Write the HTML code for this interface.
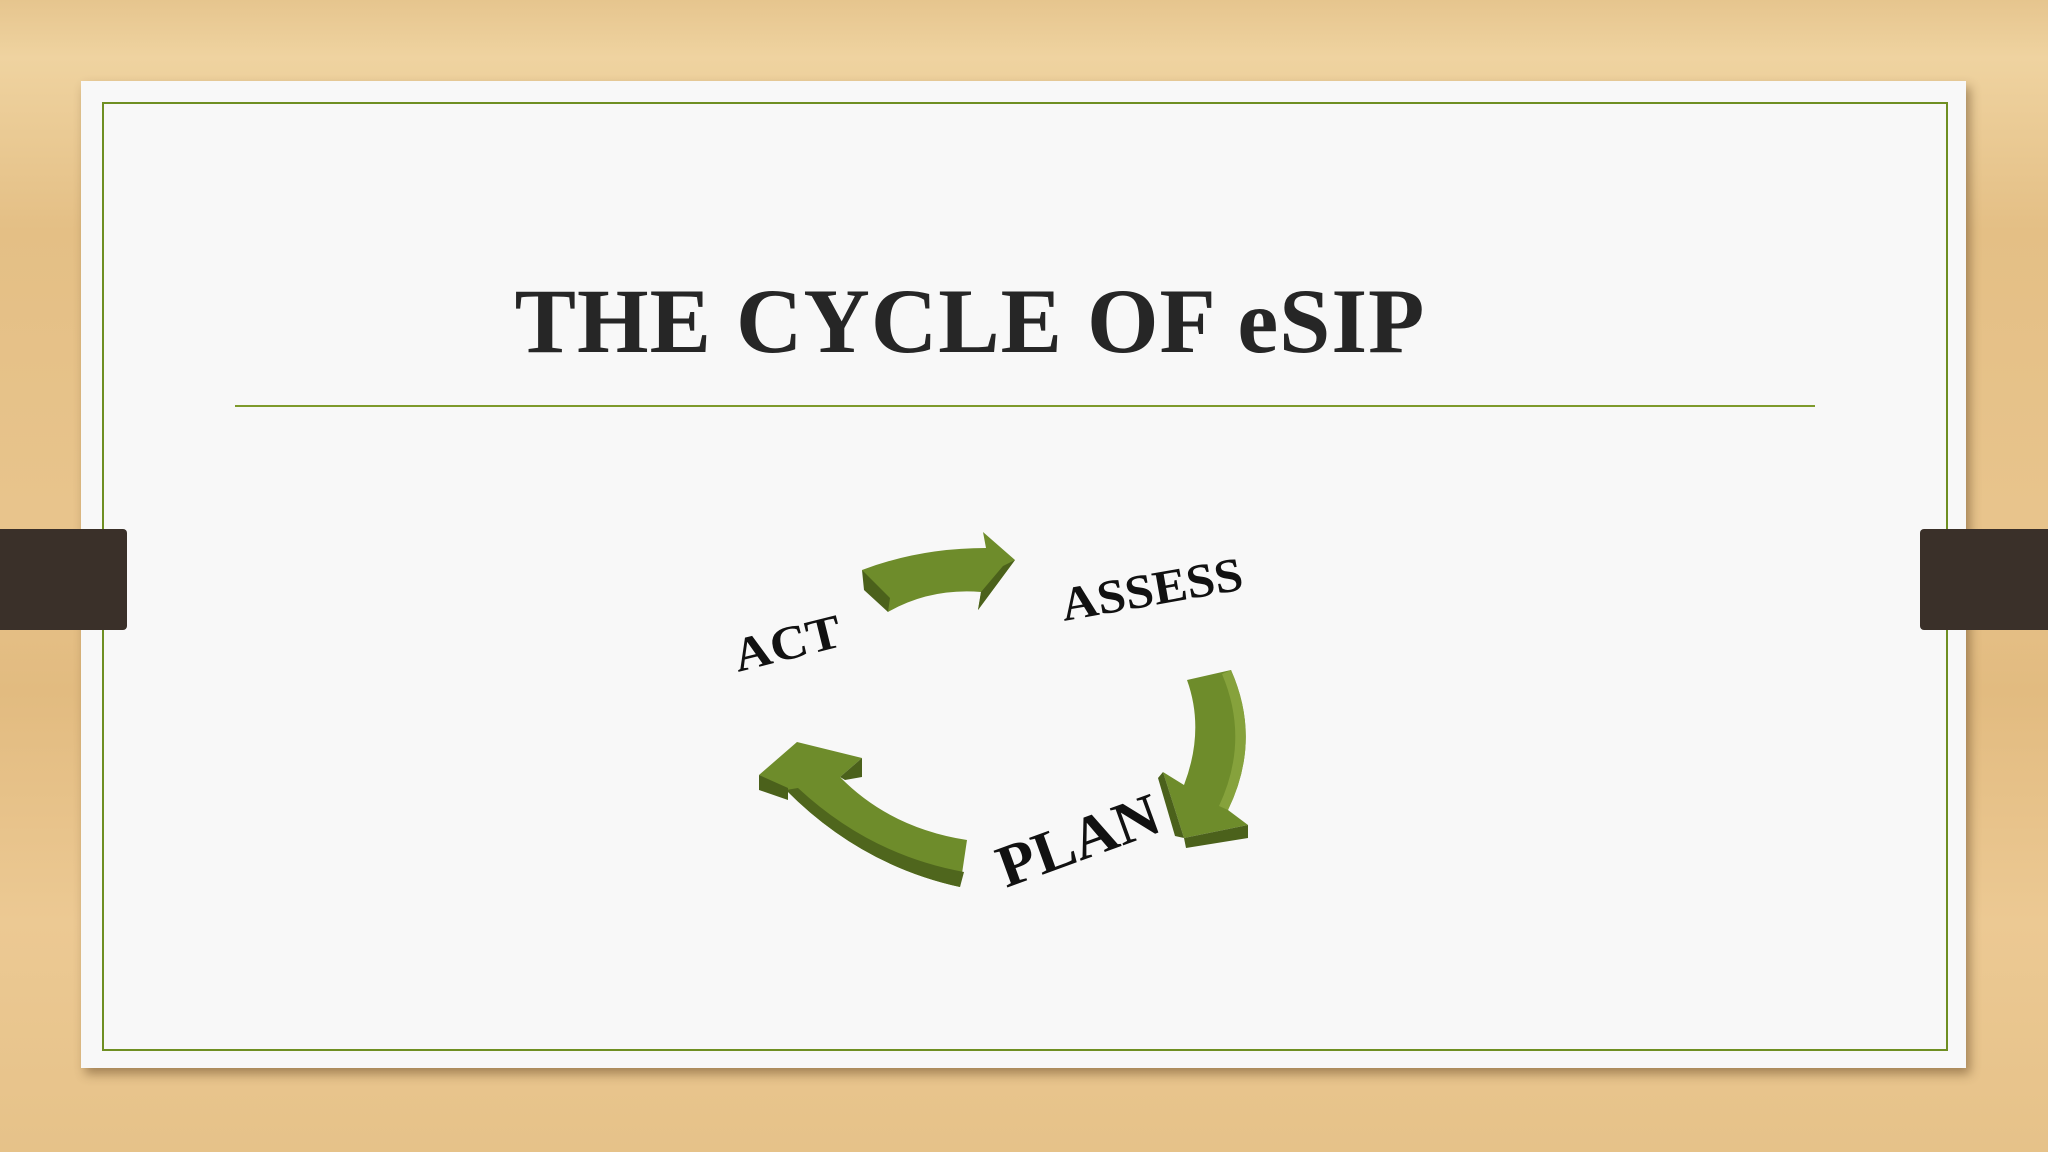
<!DOCTYPE html>
<html><head><meta charset="utf-8"><style>
html,body{margin:0;padding:0}
body{width:2048px;height:1152px;overflow:hidden;position:relative;
background:linear-gradient(180deg,#e6c58e 0%,#efd3a0 5%,#e4bf85 20%,#e8c48c 45%,#e2bb80 60%,#ecc993 80%,#e6c289 100%);}
.paper{position:absolute;left:81px;top:81px;width:1885px;height:987px;background:#f8f8f8;box-shadow:4px 6px 10px rgba(80,50,20,.45)}
.inner{position:absolute;left:102px;top:102px;width:1842px;height:945px;border:2px solid #6f8f22}
.bar{position:absolute;top:529px;height:101px;background:#3a3029}
.title{position:absolute;left:0;width:1940px;text-align:center;top:268px;font-family:"Liberation Serif",serif;font-weight:bold;font-size:92px;color:#262626;letter-spacing:1px}
.rule{position:absolute;left:235px;top:405px;width:1580px;height:2px;background:#7e9a2c}
svg{position:absolute;left:0;top:0}
</style></head><body>
<div class="paper"></div>
<div class="inner"></div>
<div class="bar" style="left:0;width:127px;border-radius:0 4px 4px 0"></div>
<div class="bar" style="left:1920px;width:128px;border-radius:4px 0 0 4px"></div>
<div class="title">THE CYCLE OF eSIP</div>
<div class="rule"></div>
<svg width="2048" height="1152" viewBox="0 0 2048 1152">
<!-- top arrow -->
<path d="M862,570 Q920,548 986,548 L983,532 L1015,560 L978,610 L981,592 Q930,588 888,612 Z" fill="#6e8c2b"/>
<path d="M862,570 L864,590 L888,612 L890,598 Z" fill="#4b611b"/>
<path d="M981,592 L978,610 L1015,560 L1003,566 Z" fill="#4b611b"/>
<!-- right arrow -->
<path d="M1187,680 L1231,670 Q1262,740 1228,810 L1248,825 L1184,838 L1163,772 L1184,785 Q1205,730 1187,680 Z" fill="#6e8c2b"/>
<path d="M1231,670 Q1262,740 1228,810 L1219,806 Q1250,740 1222,674 Z" fill="#86a23c"/>
<path d="M1184,838 L1248,825 L1248,838 L1186,848 Z" fill="#4b611b"/>
<path d="M1163,772 L1184,838 L1175,836 L1158,778 Z" fill="#4b611b"/>
<!-- bottom-left arrow -->
<path d="M967,840 L960,887 Q860,865 786,790 L759,775 L797,742 L862,758 L840,777 Q890,828 967,840 Z" fill="#6e8c2b"/>
<path d="M960,887 Q860,865 786,790 L798,788 Q870,855 964,872 Z" fill="#4f661d"/>
<path d="M862,758 L862,777 L845,780 L840,777 Z" fill="#4b611b"/>
<path d="M759,775 L759,790 L788,800 L788,788 Z" fill="#4b611b"/>
<g font-family="Liberation Serif,serif" font-weight="bold" fill="#111">
<text x="738" y="672" font-size="48" transform="rotate(-14 738 672) translate(738 672) scale(1.08 1) translate(-738 -672)">ACT</text>
<text x="1064" y="621" font-size="48" transform="rotate(-10 1064 621) translate(1064 621) scale(1.06 1) translate(-1064 -621)">ASSESS</text>
<text x="1006" y="888" font-size="60" transform="rotate(-20 1006 888) translate(1006 888) scale(1.03 1) translate(-1006 -888)">PLAN</text>
</g>
</svg>
</body></html>
